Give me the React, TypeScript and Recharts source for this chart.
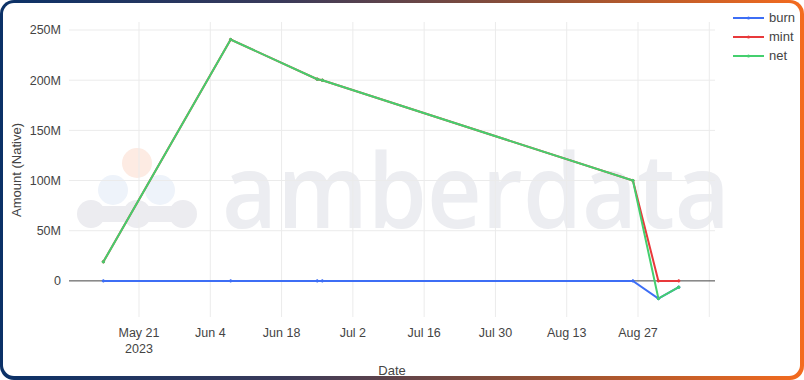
import React from 'react';
import { LineChart, Line, XAxis, YAxis, ReferenceLine, Label } from 'recharts';

const DATES = ['2023-05-14', '2023-06-08', '2023-06-25', '2023-06-26', '2023-08-26', '2023-08-31', '2023-09-04'];
const BURN = [0, 0, 0, 0, 0, -17.6, -6.3];
const MINT = [19, 240.5, 201, 200, 100, 0, 0];
const NET = [19, 240.5, 201, 200, 100, -17.6, -6.3];

const X_TICKS = ['2023-05-21', '2023-06-04', '2023-06-18', '2023-07-02', '2023-07-16', '2023-07-30', '2023-08-13', '2023-08-27', '2023-09-10'];
const X_LABELS = ['May 21', 'Jun 4', 'Jun 18', 'Jul 2', 'Jul 16', 'Jul 30', 'Aug 13', 'Aug 27', ''];
const Y_TICKS = [0, 50, 100, 150, 200, 250];

const SERIES = [
  { key: 'burn', color: '#3d6ef5' },
  { key: 'mint', color: '#e8393b' },
  { key: 'net', color: '#44cf6e' },
];

const ts = (d: string) => Date.parse(d + 'T00:00:00Z');
const DAY = 86400000;
const X_DOMAIN = [ts('2023-05-07') + 0.25 * DAY, ts('2023-09-11') + 0.12 * DAY];

const data = DATES.map((d, i) => ({ t: ts(d), burn: BURN[i], mint: MINT[i], net: NET[i] }));

const FONT = '"Liberation Sans", Arial, sans-serif';
const GRID = '#ebebeb';

const XTick = (props: any) => {
  const { x, y, payload } = props;
  const idx = X_TICKS.findIndex((d) => ts(d) === payload.value);
  const label = idx >= 0 ? X_LABELS[idx] : '';
  return (
    <g>
      <text x={x} y={y + 12} textAnchor="middle" fill="#444" fontSize={12.5} fontFamily={FONT}>{label}</text>
      {idx === 0 && (
        <text x={x} y={y + 28} textAnchor="middle" fill="#444" fontSize={12.5} fontFamily={FONT}>2023</text>
      )}
    </g>
  );
};

export default function App() {
  return (
    <div style={{ position: 'absolute', left: 0, top: 0, width: 804, height: 380 }}>
      <div style={{ position: 'absolute', inset: 0, borderRadius: 14, background: 'linear-gradient(to right, #0b3167 0%, #3a3a5a 35%, #9a5232 70%, #f46b1e 100%)' }} />
      <div style={{ position: 'absolute', left: 3, top: 3, right: 4, bottom: 4, borderRadius: 11, background: '#fff' }} />
      <svg width={804} height={380} style={{ position: 'absolute', left: 0, top: 0 }}>
        <circle cx={137} cy={163} r={15} fill="#fdebe3" />
        <circle cx={113} cy={190} r={15} fill="#eef3fa" />
        <circle cx={160} cy={190} r={15} fill="#eef3fa" />
        <circle cx={91} cy={214} r={14} fill="#ececf0" />
        <circle cx={137} cy={214} r={14} fill="#ececf0" />
        <circle cx={183} cy={214} r={14} fill="#ececf0" />
        <rect x={91} y={206} width={92} height={16} fill="#ececf0" />
        <text x={222} y={228} fontSize={104} fontWeight={600} fontFamily='"Open Sans", sans-serif' fill="#ecedf1" textLength={508} lengthAdjust="spacingAndGlyphs">amberdata</text>
      </svg>
      <div style={{ position: 'absolute', left: 0, top: 0 }}>
        <LineChart width={804} height={380} data={data} margin={{ top: 22, right: 89, bottom: 0, left: 0 }}>
          <XAxis
            dataKey="t"
            type="number"
            scale="time"
            domain={X_DOMAIN}
            allowDataOverflow
            ticks={X_TICKS.map(ts)}
            tick={<XTick />}
            tickLine={false}
            axisLine={false}
            height={63}
            interval={0}
          >
            <Label content={() => (
              <text x={392} y={375} textAnchor="middle" fill="#444" fontSize={13} fontFamily={FONT}>Date</text>
            )} />
          </XAxis>
          <YAxis
            type="number"
            domain={[-36, 258]}
            allowDataOverflow
            ticks={Y_TICKS}
            tickFormatter={(v: number) => (v === 0 ? '0' : `${v}M`)}
            tick={{ fill: '#444', fontSize: 12.5, fontFamily: FONT }}
            tickLine={false}
            axisLine={false}
            width={69}
            interval={0}
          >
            <Label content={() => (
              <text x={21} y={170} transform="rotate(-90 21 170)" textAnchor="middle" fill="#444" fontSize={13} fontFamily={FONT}>Amount (Native)</text>
            )} />
          </YAxis>
          {X_TICKS.map((d) => (
            <ReferenceLine key={'gx' + d} x={ts(d)} stroke={GRID} strokeWidth={1} />
          ))}
          {Y_TICKS.filter((v) => v !== 0).map((v) => (
            <ReferenceLine key={'gy' + v} y={v} stroke={GRID} strokeWidth={1} />
          ))}
          <ReferenceLine y={0} stroke="#444" strokeWidth={1} />
          {SERIES.map((s) => (
            <Line
              key={s.key}
              type="linear"
              dataKey={s.key}
              stroke={s.color}
              strokeWidth={2}
              dot={{ r: 1.2, fill: s.color, stroke: s.color, strokeWidth: 1 }}
              activeDot={false}
              isAnimationActive={false}
            />
          ))}
        </LineChart>
      </div>
      <div style={{ position: 'absolute', left: 733, top: 8, fontFamily: FONT, fontSize: 13, color: '#444' }}>
        {SERIES.map((s) => (
          <div key={s.key} style={{ display: 'flex', alignItems: 'center', height: 19 }}>
            <svg width={31} height={6} style={{ marginRight: 5 }}>
              <line x1={0} y1={3} x2={31} y2={3} stroke={s.color} strokeWidth={2} />
              <circle cx={15.5} cy={3} r={1.5} fill={s.color} />
            </svg>
            <span>{s.key}</span>
          </div>
        ))}
      </div>
    </div>
  );
}
